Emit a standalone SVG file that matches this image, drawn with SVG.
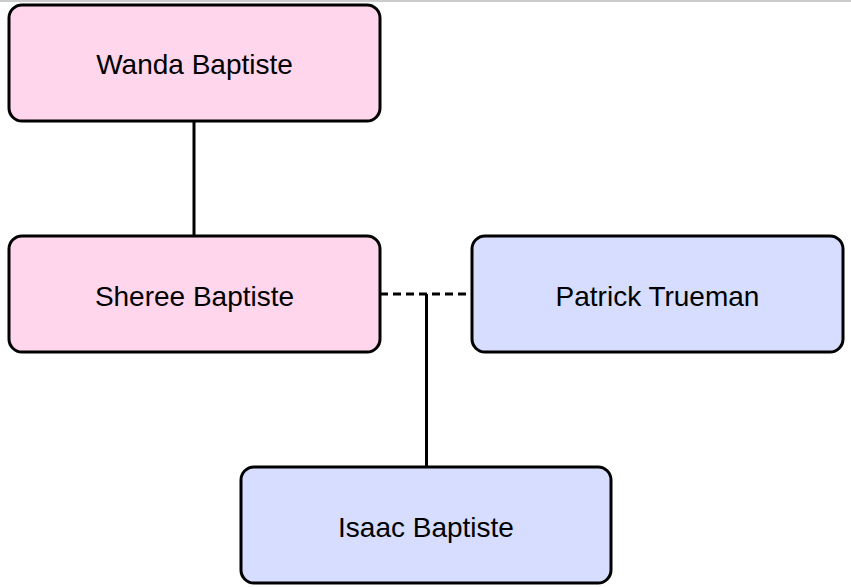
<svg xmlns="http://www.w3.org/2000/svg" width="851" height="587" viewBox="0 0 851 587">
<style>
.n rect{stroke:#000;stroke-width:3}
.f{fill:#ffd6ec}.m{fill:#d6ddff}
text{font-family:"Liberation Sans",Arial,sans-serif;font-size:28px;text-anchor:middle;dominant-baseline:central;fill:#000}
.c{stroke:#000;stroke-width:3;fill:none}
</style>
<rect x="0" y="0" width="851" height="2" fill="#ccc"/>
<g id="connectors">
<line class="c" x1="194" y1="121" x2="194" y2="236"/>
<line class="c" x1="380" y1="294" x2="472" y2="294" stroke-dasharray="8,5"/>
<line class="c" x1="426.5" y1="294" x2="426.5" y2="467"/>
</g>
<g id="wanda" class="n"><rect class="f" x="9" y="5" width="371" height="116" rx="13"/><text x="194.5" y="64">Wanda Baptiste</text></g>
<g id="sheree" class="n"><rect class="f" x="9" y="236" width="371" height="116" rx="13"/><text x="194.5" y="296">Sheree Baptiste</text></g>
<g id="patrick" class="n"><rect class="m" x="472" y="236" width="371" height="116" rx="13"/><text x="657.5" y="296">Patrick Trueman</text></g>
<g id="isaac" class="n"><rect class="m" x="241" y="467" width="370" height="116" rx="13"/><text x="426" y="527">Isaac Baptiste</text></g>
</svg>
